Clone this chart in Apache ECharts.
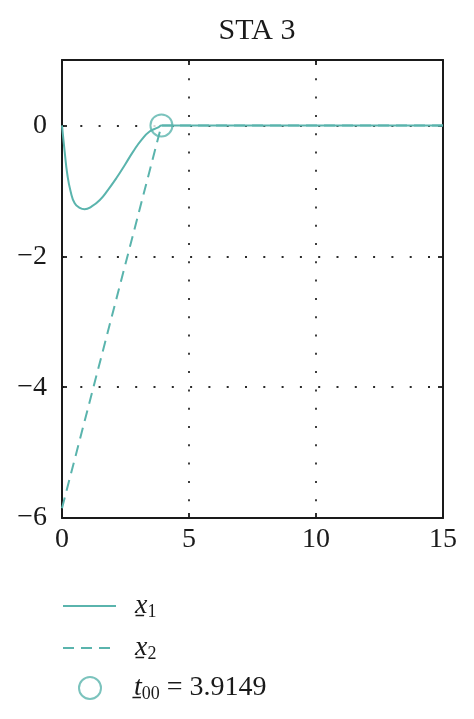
<!DOCTYPE html>
<html>
<head>
<meta charset="utf-8">
<script src="https://cdn.jsdelivr.net/npm/echarts@6/dist/echarts.min.js"></script>
<style>
  html, body { margin: 0; padding: 0; background: #fff; }
  #chart { width: 474px; height: 719px; }
</style>
</head>
<body>
<div id="chart"></div>
<script>
// values
const tValues = [0, 0.105, 0.21, 0.34, 0.5, 0.7, 0.89, 1.16, 1.49, 1.82, 2.15, 2.48, 2.8, 3.13, 3.46, 3.79, 3.9149, 15]
const x1Values = [0, -0.40, -0.75, -1.01, -1.19, -1.26, -1.28, -1.24, -1.14, -0.98, -0.80, -0.60, -0.40, -0.22, -0.09, -0.03, 0, 0]
const t2Values = [0, 3.9149, 15]
const x2Values = [-5.85, 0, 0]
const t00 = 3.9149
const yTicks = [-6, -4, -2, 0]

const TEAL = '#5ab4ad'
const INK = '#1a1a1a'
const FONT = 'Liberation Serif'

const chart = echarts.init(document.getElementById('chart'))

const dotted = { type: [2, 16.3], color: '#2a2a2a', width: 1.8 }
const baseX = {
	type: 'value', min: 0, max: 15, interval: 5,
	axisLine: { show: true, onZero: false, lineStyle: { color: INK, width: 2 } },
	axisTick: { show: true, inside: true, length: 5, lineStyle: { color: INK, width: 1.8 } },
}
const baseY = {
	type: 'value', min: -6, max: 1, interval: 2,
	axisLine: { show: true, onZero: false, lineStyle: { color: INK, width: 2 } },
	axisTick: { show: true, inside: true, length: 5, lineStyle: { color: INK, width: 1.8 } },
}

const rich = {
	v: { fontFamily: FONT, fontStyle: 'italic', fontSize: 28, color: INK, padding: [0, 0, 0, 14] },
	w: { fontFamily: FONT, fontStyle: 'italic', fontSize: 28, color: INK, padding: [0, 0, 0, 28] },
	s: { fontFamily: FONT, fontSize: 18, color: INK, padding: [12, 0, 0, 0] },
	e: { fontFamily: FONT, fontSize: 28, color: INK },
}
const legendText = {
	x1: '{v|x\u0331}{s|1}',
	x2: '{v|x\u0331}{s|2}',
	t00: '{w|t\u0331}{s|00}{e| = ' + t00.toFixed(4) + '}',
}
function legendAt(name, left, top, w, h) {
	return {
		data: [name], left: left, top: top, itemWidth: w, itemHeight: h, padding: 0,
		formatter: n => legendText[n], textStyle: { rich: rich },
		itemStyle: name === 't00' ? {} : { opacity: 0 },
		selectedMode: false,
	}
}

chart.setOption({
	animation: false,
	title: {
		text: 'STA 3', left: 252, top: 11, textAlign: 'center',
		textStyle: { fontFamily: FONT, fontSize: 30, fontWeight: 'normal', color: INK },
	},
	grid: { left: 62, right: 31, top: 60, bottom: 201 },
	legend: [
		legendAt('x1', 62, 592, 53, 14),
		legendAt('x2', 62, 634, 53, 14),
		legendAt('t00', 78, 674, 22, 22),
	],
	xAxis: [
		{
			...baseX, position: 'bottom',
			axisLabel: { fontFamily: FONT, fontSize: 28, color: INK, margin: 8 },
			splitLine: { show: true, lineStyle: dotted },
		},
		{ ...baseX, position: 'top', axisLabel: { show: false }, splitLine: { show: false } },
	],
	yAxis: [
		{
			...baseY, position: 'left',
			axisLabel: {
				fontFamily: FONT, fontSize: 28, color: INK, margin: 15, showMaxLabel: false,
				formatter: v => (yTicks.includes(v) ? String(v).replace('-', '\u2212') : ''),
			},
			splitLine: { show: true, lineStyle: dotted },
		},
		{ ...baseY, position: 'right', axisLabel: { show: false }, splitLine: { show: false } },
	],
	series: [
		{
			name: 'x2', type: 'line', showSymbol: false, symbol: 'none',
			data: t2Values.map((t, i) => [t, x2Values[i]]),
			lineStyle: { color: TEAL, width: 2, type: [11, 7] },
			itemStyle: { color: TEAL },
		},
		{
			name: 'x1', type: 'line', showSymbol: false, symbol: 'none', smooth: 0.5,
			data: tValues.map((t, i) => [t, x1Values[i]]),
			lineStyle: { color: TEAL, width: 2 },
			itemStyle: { color: TEAL },
		},
		{
			name: 't00', type: 'scatter', symbol: 'emptyCircle', symbolSize: 22,
			data: [[t00, 0]],
			itemStyle: { color: TEAL, borderColor: TEAL, borderWidth: 2 },
		},
	],
})
</script>
</body>
</html>
